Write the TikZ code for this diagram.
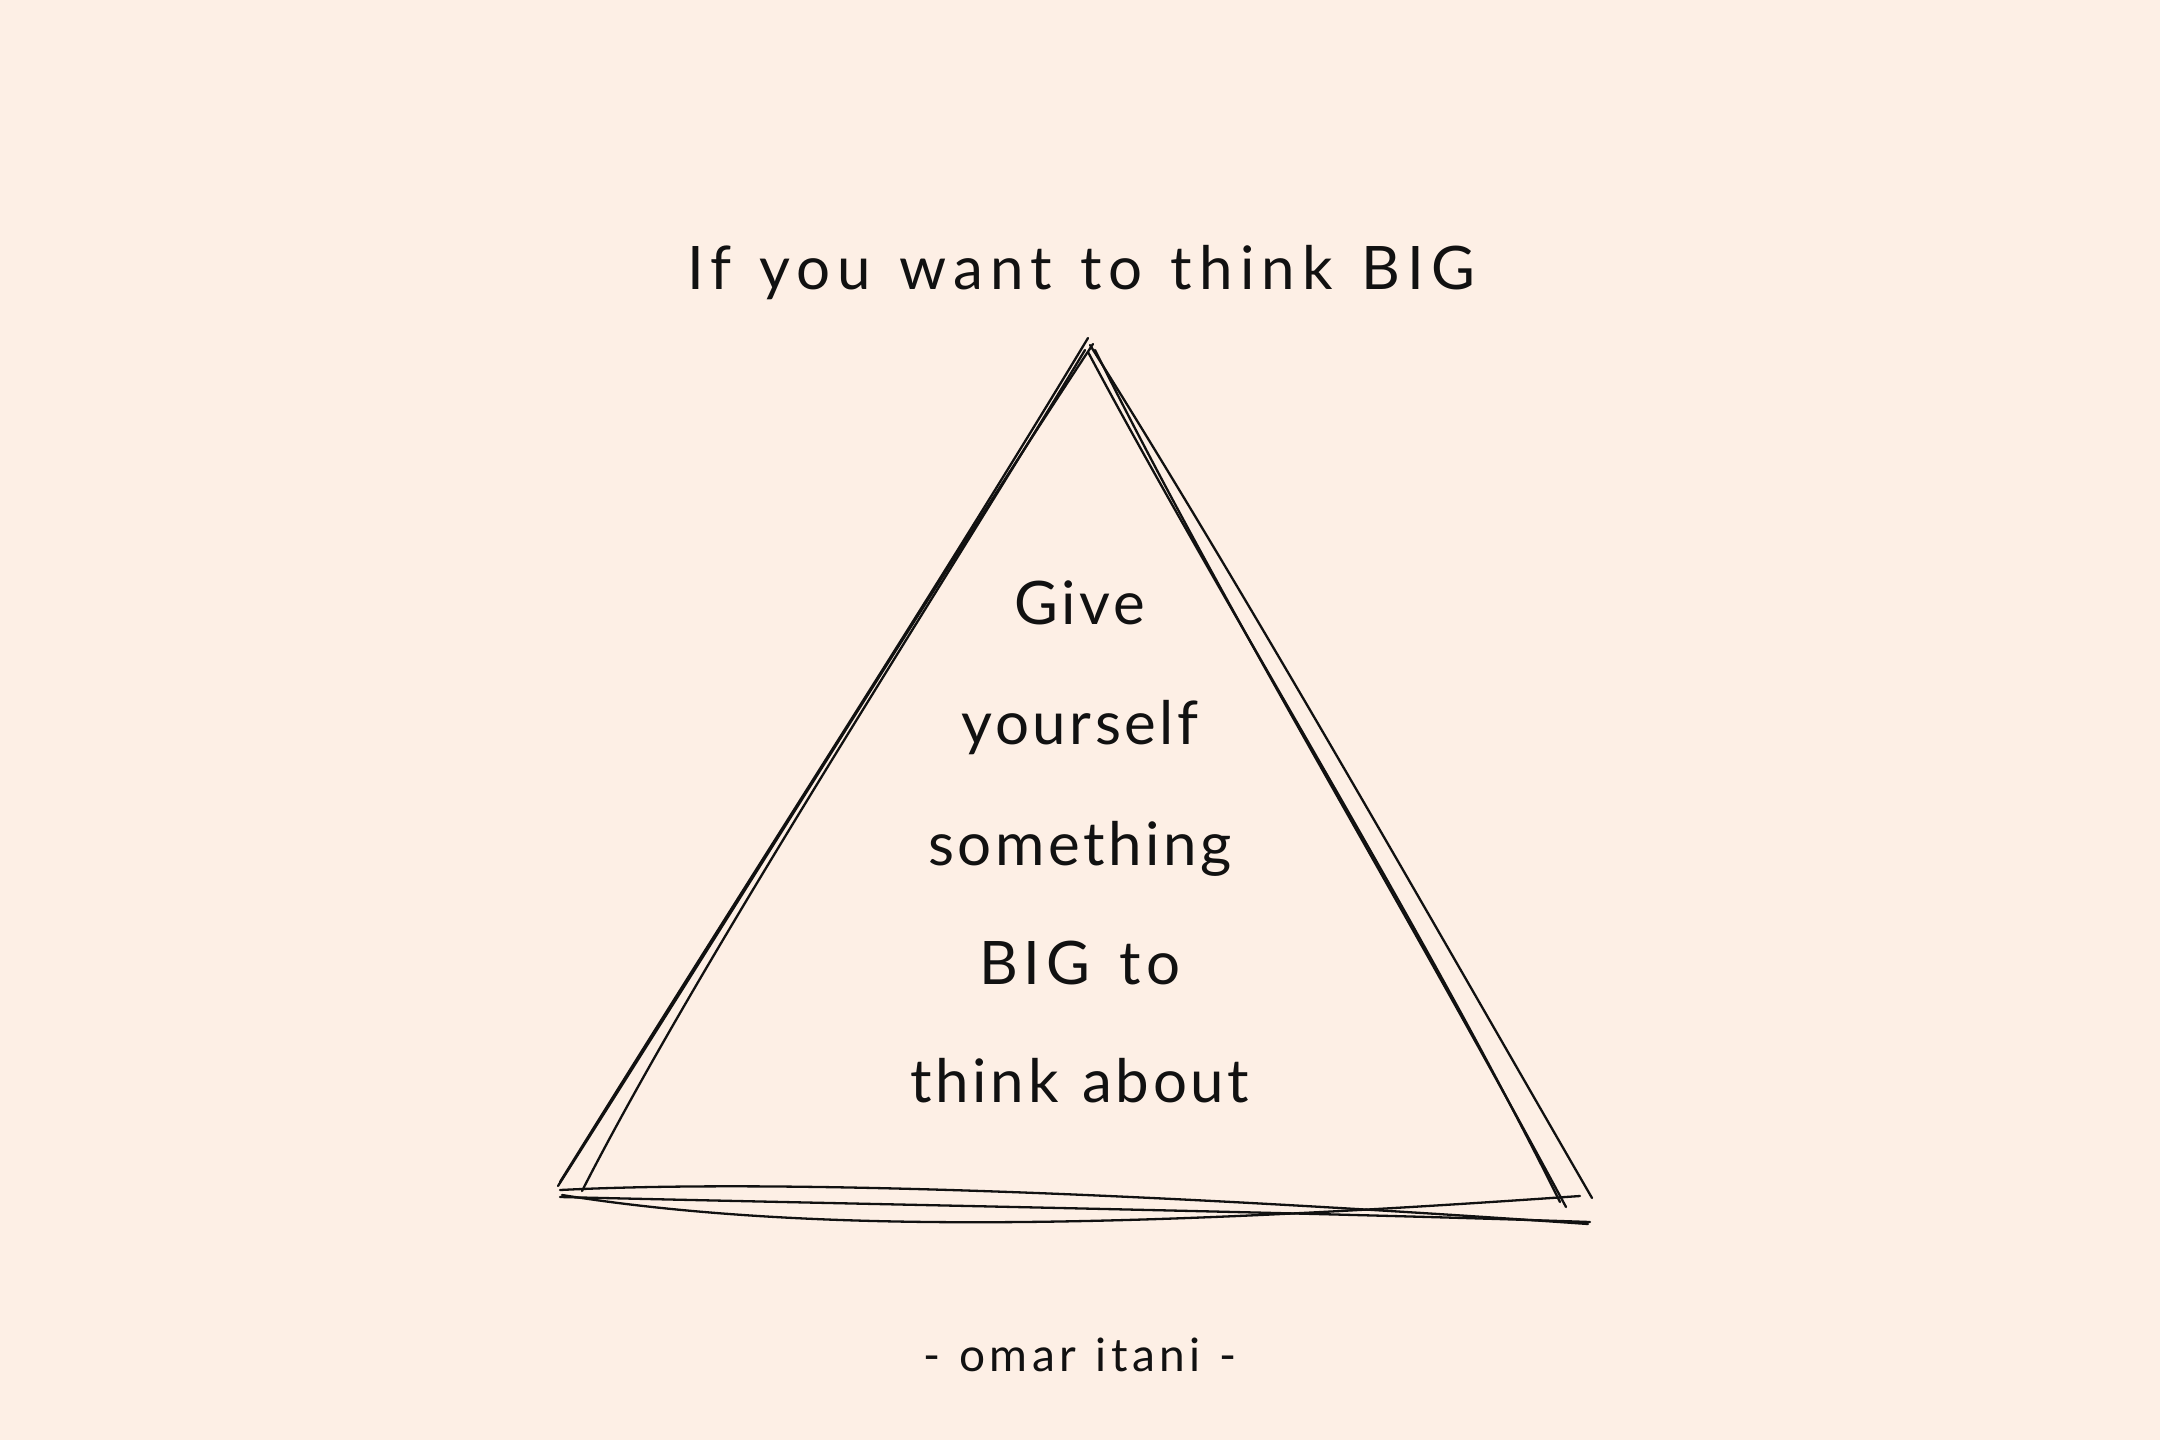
\documentclass[tikz,border=0pt]{standalone}
\usepackage{fontspec}
\setmainfont{Lato}
\newfontfamily\spacedA[LetterSpace=12]{Lato}
\newfontfamily\spacedB[LetterSpace=6]{Lato}
\newfontfamily\spacedC[LetterSpace=10]{Lato}
\definecolor{paper}{HTML}{FDEFE5}
\definecolor{ink}{HTML}{111111}
\begin{document}
\begin{tikzpicture}[x=1pt,y=-1pt,
  sketch/.style={draw=ink,line width=2.3pt,line cap=round},
  titletext/.style={anchor=base,text=ink,inner sep=0pt,
    font={\spacedA\fontsize{60}{72}\selectfont\spaceskip=28pt\relax}},
  bigtext/.style={anchor=base,text=ink,inner sep=0pt,
    font={\spacedB\fontsize{60}{72}\selectfont\spaceskip=24pt\relax}},
  widetext/.style={bigtext,font={\spacedC\fontsize{60}{72}\selectfont\spaceskip=29pt\relax}},
  smalltext/.style={anchor=base,text=ink,inner sep=0pt,
    font={\spacedC\fontsize{46}{54}\selectfont\spaceskip=19pt\relax}}]
\fill[paper] (0,0) rectangle (2160,1440);
\useasboundingbox (0,0) rectangle (2160,1440);

% corner coordinates
\coordinate (apexA) at (1088,338);
\coordinate (apexB) at (1093,344);
\coordinate (apexC) at (1085,350);
\coordinate (apexD) at (1090,345);
\coordinate (apexE) at (1095,350);
\coordinate (apexF) at (1088,352);
\coordinate (blA) at (560,1182);
\coordinate (blB) at (558,1186);
\coordinate (blC) at (582,1191);
\coordinate (brA) at (1592,1198);
\coordinate (brB) at (1566,1207);
\coordinate (brC) at (1560,1202);
\coordinate (bbA) at (560,1190);
\coordinate (bbB) at (562,1195);
\coordinate (bbC) at (560,1197);
\coordinate (beA) at (1588,1224);
\coordinate (beB) at (1580,1196);
\coordinate (beC) at (1590,1222);

% left side
\draw[sketch] (blA) .. controls (760,860) and (930,600) .. (apexA);
\draw[sketch] (blB) .. controls (740,900) and (950,560) .. (apexB);
\draw[sketch] (blC) .. controls (700,960) and (940,590) .. (apexC);
% right side
\draw[sketch] (apexD) .. controls (1250,600) and (1420,900) .. (brA);
\draw[sketch] (apexE) .. controls (1230,620) and (1390,880) .. (brB);
\draw[sketch] (apexF) .. controls (1220,600) and (1420,920) .. (brC);
% bottom
\draw[sketch] (bbA) .. controls (760,1180) and (1100,1190) .. (beA);
\draw[sketch] (bbB) .. controls (820,1236) and (1150,1226) .. (beB);
\draw[sketch] (bbC) .. controls (900,1205) and (1300,1212) .. (beC);

% texts
\node[titletext] (title) at (1081,289) {If you want to think BIG};
\node[bigtext] (l1) at (1080,624) {Give};
\node[bigtext] (l2) at (1080,744) {yourself};
\node[bigtext] (l3) at (1080,865) {something};
\node[widetext] (l4) at (1080,984) {BIG to};
\node[bigtext] (l5) at (1080,1102) {think about};
\node[smalltext] (author) at (1080,1371) {- omar itani -};
\end{tikzpicture}
\end{document}
